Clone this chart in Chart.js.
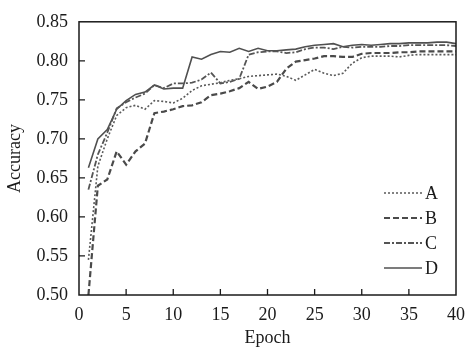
<!DOCTYPE html>
<html>
<head>
<meta charset="utf-8">
<script src="https://cdn.jsdelivr.net/npm/chart.js@4/dist/chart.umd.min.js"></script>
<style>
html,body{margin:0;padding:0;background:#fff;}
canvas{display:block;}
</style>
</head>
<body>
<canvas id="c" width="474" height="352"></canvas>
<script>
const epochs = [1,2,3,4,5,6,7,8,9,10,11,12,13,14,15,16,17,18,19,20,21,22,23,24,25,26,27,28,29,30,31,32,33,34,35,36,37,38,39,40];
const seriesNames = ['A','B','C','D'];
const accA = [0.545,0.665,0.700,0.730,0.740,0.743,0.738,0.749,0.748,0.746,0.752,0.762,0.768,0.770,0.772,0.775,0.777,0.780,0.781,0.782,0.783,0.780,0.775,0.782,0.789,0.784,0.781,0.784,0.797,0.804,0.806,0.806,0.806,0.805,0.807,0.808,0.808,0.808,0.808,0.808];
const accB = [0.500,0.640,0.648,0.684,0.667,0.684,0.694,0.733,0.735,0.738,0.742,0.743,0.747,0.756,0.758,0.761,0.765,0.773,0.764,0.767,0.773,0.790,0.799,0.801,0.803,0.806,0.806,0.805,0.805,0.809,0.810,0.810,0.810,0.811,0.811,0.812,0.812,0.812,0.812,0.812];
const accC = [0.635,0.680,0.708,0.739,0.747,0.753,0.758,0.769,0.765,0.771,0.771,0.772,0.776,0.785,0.771,0.773,0.777,0.808,0.811,0.812,0.812,0.810,0.811,0.815,0.817,0.817,0.815,0.818,0.817,0.818,0.818,0.818,0.819,0.819,0.820,0.820,0.820,0.820,0.820,0.819];
const accD = [0.663,0.700,0.712,0.738,0.749,0.757,0.760,0.769,0.764,0.765,0.765,0.805,0.802,0.808,0.812,0.811,0.816,0.812,0.816,0.813,0.813,0.814,0.815,0.818,0.820,0.821,0.822,0.818,0.820,0.821,0.820,0.821,0.822,0.822,0.823,0.823,0.823,0.824,0.824,0.822];
const xTicks = [0,5,10,15,20,25,30,35,40];
const yTicks = [0.50,0.55,0.60,0.65,0.70,0.75,0.80,0.85];

const FONT = "'Liberation Serif', 'Times New Roman', serif";
const FS = 18;
const TEXT = '#1a1a1a';

function pts(arr){ return epochs.map((e,i)=>({x:e,y:arr[i]})); }

const styles = [
  {color:'#5a5a5a', width:1.6, dash:[2,2]},
  {color:'#4a4a4a', width:2.2, dash:[6,3]},
  {color:'#555555', width:1.8, dash:[6,2,2,2]},
  {color:'#505050', width:1.6, dash:[]}
];
const allData = [accA, accB, accC, accD];

const datasets = allData.map((arr,i)=>({
  label: seriesNames[i],
  data: pts(arr),
  borderColor: styles[i].color,
  borderWidth: styles[i].width,
  borderDash: styles[i].dash,
  pointRadius: 0,
  fill: false,
  tension: 0
}));

const framePlugin = {
  id: 'frame',
  afterDatasetsDraw(chart){
    const ctx = chart.ctx, a = chart.chartArea;
    const xs = chart.scales.x, ys = chart.scales.y;
    ctx.save();
    ctx.strokeStyle = '#1a1a1a';
    ctx.lineWidth = 1.5;
    ctx.setLineDash([]);
    ctx.strokeRect(a.left, a.top, a.right - a.left, a.bottom - a.top);
    ctx.lineWidth = 1.3;
    ctx.beginPath();
    xs.ticks.forEach(t=>{
      const px = xs.getPixelForValue(t.value);
      if (px <= a.left + 1 || px >= a.right - 1) return;
      ctx.moveTo(px, a.bottom);
      ctx.lineTo(px, a.bottom - 6);
    });
    ys.ticks.forEach(t=>{
      const py = ys.getPixelForValue(t.value);
      if (py <= a.top + 1 || py >= a.bottom - 1) return;
      ctx.moveTo(a.left, py);
      ctx.lineTo(a.left + 6, py);
    });
    ctx.stroke();

    // legend
    const lx0 = 384, lx1 = 422, ly0 = 193, dy = 25;
    ctx.font = FS + 'px ' + FONT;
    ctx.textBaseline = 'middle';
    ctx.textAlign = 'left';
    chart.data.datasets.forEach((ds, i)=>{
      const y = ly0 + i*dy;
      ctx.strokeStyle = ds.borderColor;
      ctx.lineWidth = ds.borderWidth;
      ctx.setLineDash(ds.borderDash);
      ctx.beginPath();
      ctx.moveTo(lx0, y);
      ctx.lineTo(lx1, y);
      ctx.stroke();
      ctx.setLineDash([]);
      ctx.fillStyle = TEXT;
      ctx.fillText(ds.label, lx1 + 3, y + 1);
    });
    ctx.restore();
  }
};

new Chart(document.getElementById('c'), {
  type: 'line',
  data: { datasets },
  options: {
    responsive: false,
    animation: false,
    devicePixelRatio: 1,
    layout: { padding: { top: 7, right: 9, left: 0, bottom: 0 } },
    plugins: { legend: { display: false }, tooltip: { enabled: false } },
    scales: {
      x: {
        type: 'linear',
        min: 0, max: 40,
        afterBuildTicks(s){ s.ticks = xTicks.map(v=>({value:v})); },
        afterFit(s){ s.height = 57; },
        grid: { display: false, drawOnChartArea: false, drawTicks: false },
        border: { display: false },
        ticks: { padding: 9, color: TEXT, font: { family: FONT, size: FS }, maxRotation: 0, autoSkip: false,
                 callback: v => String(v) },
        title: { display: true, text: 'Epoch', color: TEXT, font: { family: FONT, size: FS }, padding: { top: 3, bottom: 3 } }
      },
      y: {
        type: 'linear',
        min: 0.5, max: 0.85,
        afterBuildTicks(s){ s.ticks = yTicks.map(v=>({value:v})); },
        afterFit(s){ s.width = 79; },
        grid: { display: false, drawOnChartArea: false, drawTicks: false },
        border: { display: false },
        ticks: { padding: 11, color: TEXT, font: { family: FONT, size: FS }, autoSkip: false,
                 callback: v => Number(v).toFixed(2) },
        title: { display: true, text: 'Accuracy', color: TEXT, font: { family: FONT, size: FS }, padding: { top: 4, bottom: 4 } }
      }
    }
  },
  plugins: [framePlugin]
});
</script>
</body>
</html>
